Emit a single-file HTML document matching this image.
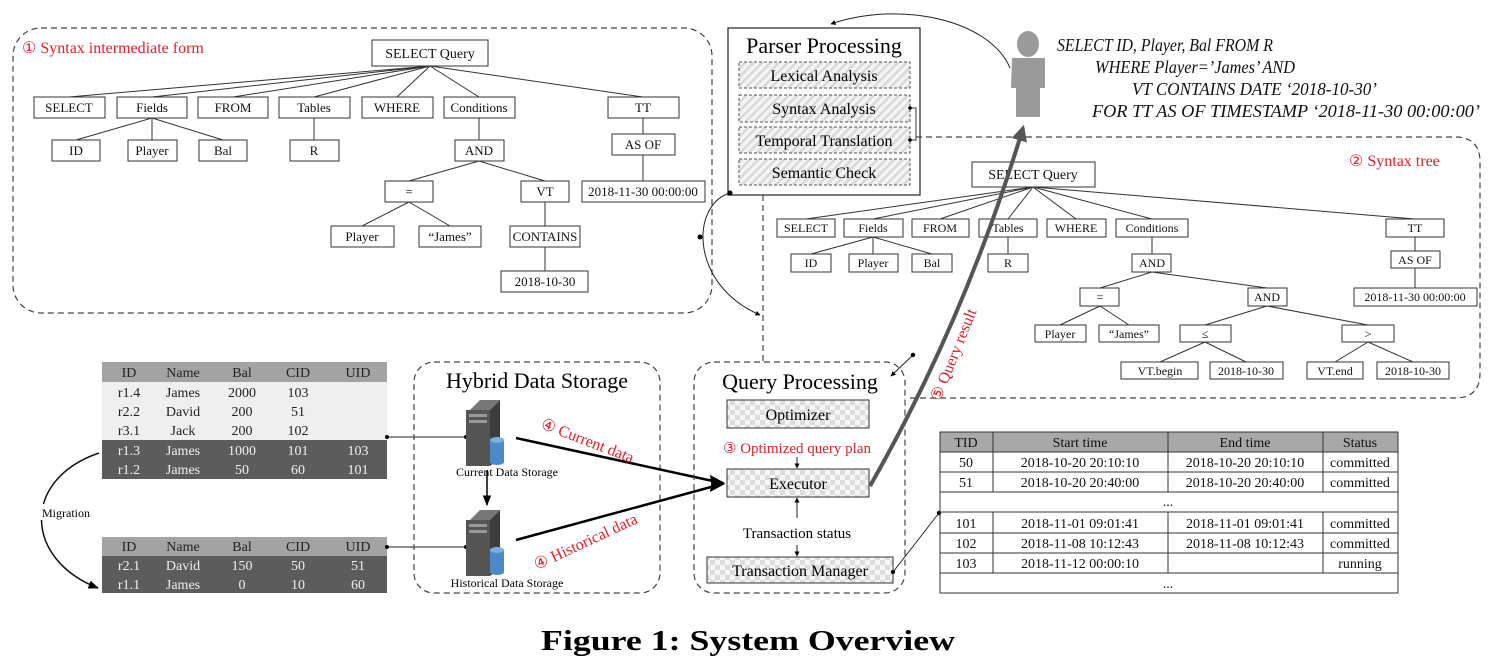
<!DOCTYPE html>
<html><head><meta charset="utf-8"><style>
html,body{margin:0;padding:0;background:#fff;}
svg{display:block;font-family:"Liberation Serif",serif;}
</style></head><body>
<svg width="1494" height="668" viewBox="0 0 1494 668" xmlns="http://www.w3.org/2000/svg">
<defs>
<pattern id="hatch" width="6" height="6" patternUnits="userSpaceOnUse" patternTransform="rotate(45)">
<rect width="6" height="6" fill="#f4f4f4"/><rect width="2.5" height="6" fill="#d8d8d8"/></pattern>
<pattern id="check" width="10" height="10" patternUnits="userSpaceOnUse">
<rect width="10" height="10" fill="#f6f6f6"/><rect width="5" height="5" fill="#dcdcdc"/><rect x="5" y="5" width="5" height="5" fill="#dcdcdc"/></pattern>
<marker id="ar" viewBox="0 0 10 10" refX="9" refY="5" markerWidth="7" markerHeight="7" orient="auto"><path d="M0,1 L10,5 L0,9 z" fill="#000"/></marker>
<marker id="arb" viewBox="0 0 10 10" refX="9" refY="5" markerWidth="5" markerHeight="5" orient="auto-start-reverse"><path d="M0,0 L10,5 L0,10 z" fill="#000"/></marker>
<marker id="arg" viewBox="0 0 10 10" refX="8" refY="5" markerWidth="4" markerHeight="4" orient="auto"><path d="M0,0 L10,5 L0,10 z" fill="#555"/></marker>
</defs>

<!-- Panel 1 -->
<rect x="13" y="28" width="699" height="285" rx="28" fill="none" stroke="#444" stroke-width="1.2" stroke-dasharray="6,4"/>
<text x="22" y="53" font-size="16" fill="#e0202a">① Syntax intermediate form</text>
<g stroke="#333" stroke-width="1" fill="none">
<path d="M430,66 L69,97 M430,66 L152,97 M430,66 L233,97 M430,66 L314,97 M430,66 L397,97 M430,66 L479,97 M430,66 L643,97"/>
<path d="M152,118 L76,140 M152,118 L152,140 M152,118 L223,140 M314,118 L314,140 M479,118 L479,140 M479,161 L409,181 M479,161 L545,181 M409,202 L362,226 M409,202 L450,226 M545,202 L545,226 M545,247 L545,271 M643,118 L643,134 M643,155 L643,181"/>
</g>
<g fill="#fff" stroke="#333" stroke-width="1">
<rect x="372" y="40" width="116" height="26"/>
<rect x="34" y="97" width="71" height="21"/><rect x="117" y="97" width="70" height="21"/><rect x="198" y="97" width="70" height="21"/><rect x="279" y="97" width="71" height="21"/><rect x="362" y="97" width="71" height="21"/><rect x="444" y="97" width="71" height="21"/><rect x="608" y="97" width="71" height="21"/>
<rect x="52" y="140" width="48" height="21"/><rect x="128" y="140" width="49" height="21"/><rect x="199" y="140" width="48" height="21"/><rect x="290" y="140" width="49" height="21"/><rect x="455" y="140" width="49" height="21"/><rect x="612" y="134" width="63" height="21"/>
<rect x="385" y="181" width="48" height="21"/><rect x="521" y="181" width="48" height="21"/><rect x="582" y="181" width="123" height="21"/>
<rect x="331" y="226" width="63" height="21"/><rect x="419" y="226" width="62" height="21"/><rect x="510" y="226" width="70" height="21"/>
<rect x="501" y="271" width="87" height="21"/>
</g>
<g font-size="13" text-anchor="middle" fill="#111">
<text x="430" y="58" font-size="14">SELECT Query</text>
<text x="69" y="112">SELECT</text><text x="152" y="112">Fields</text><text x="233" y="112">FROM</text><text x="314" y="112">Tables</text><text x="397" y="112">WHERE</text><text x="479" y="112">Conditions</text><text x="643" y="112">TT</text>
<text x="76" y="155">ID</text><text x="152" y="155">Player</text><text x="223" y="155">Bal</text><text x="314" y="155">R</text><text x="479" y="155">AND</text><text x="643" y="149">AS OF</text>
<text x="409" y="196">=</text><text x="545" y="196">VT</text><text x="643" y="196">2018-11-30 00:00:00</text>
<text x="362" y="241">Player</text><text x="450" y="241">“James”</text><text x="545" y="241">CONTAINS</text>
<text x="545" y="286">2018-10-30</text>
</g>

<!-- Parser box -->
<rect x="728" y="28" width="192" height="167" fill="#fff" stroke="#333" stroke-width="1.3"/>
<text x="824" y="53" font-size="22" text-anchor="middle">Parser Processing</text>
<g fill="url(#hatch)" stroke="#555" stroke-dasharray="3,2">
<rect x="739" y="62" width="171" height="26"/><rect x="739" y="95" width="171" height="27"/><rect x="739" y="127" width="171" height="26"/><rect x="739" y="159" width="171" height="26"/>
</g>
<g font-size="16" text-anchor="middle">
<text x="824" y="81">Lexical Analysis</text><text x="824" y="114">Syntax Analysis</text><text x="824" y="146">Temporal Translation</text><text x="824" y="178">Semantic Check</text>
</g>
<path d="M910,108 H916 V140 H910" fill="none" stroke="#333"/>
<circle cx="910" cy="108" r="1.8"/><circle cx="910" cy="140" r="1.8"/>

<!-- person -->
<g fill="#9a9a9a">
<ellipse cx="1028" cy="44" rx="11" ry="13"/>
<path d="M1012,58 H1045 V88 H1040 V117 H1016 V88 H1011 Z"/>
</g>
<path d="M1010,68 C990,20 900,0 831,24" fill="none" stroke="#222" marker-end="url(#arb)"/>
<g font-size="18" font-style="italic" fill="#111">
<text x="1057" y="51" textLength="216" lengthAdjust="spacingAndGlyphs">SELECT  ID, Player, Bal FROM  R</text>
<text x="1095" y="73" textLength="200" lengthAdjust="spacingAndGlyphs">WHERE Player=’James’ AND</text>
<text x="1132" y="95" textLength="245" lengthAdjust="spacingAndGlyphs">VT CONTAINS DATE ‘2018-10-30’</text>
<text x="1092" y="117" textLength="388" lengthAdjust="spacingAndGlyphs">FOR TT AS OF TIMESTAMP ‘2018-11-30 00:00:00’</text>
</g>

<!-- Panel 2 -->
<g fill="none" stroke="#444" stroke-width="1.2" stroke-dasharray="6,4">
<path d="M916,137 H1455 Q1480,137 1480,162 V373 Q1480,398 1455,398 H906"/>
<path d="M763,195 V362"/>
</g>
<text x="1349" y="166" font-size="16" fill="#e0202a">② Syntax tree</text>
<g stroke="#333" stroke-width="1" fill="none">
<path d="M1033,187 L806,219 M1033,187 L873,219 M1033,187 L940,219 M1033,187 L1008,219 M1033,187 L1076,219 M1033,187 L1152,219 M1033,187 L1415,219"/>
<path d="M873,237 L811,254 M873,237 L873,254 M873,237 L932,254 M1008,237 L1008,254 M1152,237 L1152,254 M1152,272 L1100,288 M1152,272 L1267,288 M1100,306 L1060,325 M1100,306 L1129,325 M1267,306 L1205,325 M1267,306 L1368,325 M1205,342 L1160,362 M1205,342 L1246,362 M1368,342 L1335,362 M1368,342 L1413,362 M1415,237 L1415,251 M1415,268 L1415,288"/>
</g>
<g fill="#fff" stroke="#333" stroke-width="1">
<rect x="972" y="162" width="123" height="25"/>
<rect x="777" y="219" width="58" height="18"/><rect x="844" y="219" width="59" height="18"/><rect x="912" y="219" width="57" height="18"/><rect x="979" y="219" width="58" height="18"/><rect x="1047" y="219" width="59" height="18"/><rect x="1116" y="219" width="72" height="18"/><rect x="1386" y="219" width="58" height="18"/>
<rect x="791" y="254" width="40" height="18"/><rect x="849" y="254" width="49" height="18"/><rect x="912" y="254" width="40" height="18"/><rect x="988" y="254" width="40" height="18"/><rect x="1132" y="254" width="39" height="18"/><rect x="1391" y="251" width="49" height="17"/>
<rect x="1080" y="288" width="39" height="18"/><rect x="1248" y="288" width="39" height="18"/><rect x="1354" y="288" width="123" height="18"/>
<rect x="1035" y="325" width="51" height="17"/><rect x="1099" y="325" width="60" height="17"/><rect x="1180" y="325" width="51" height="17"/><rect x="1342" y="325" width="52" height="17"/>
<rect x="1121" y="362" width="77" height="17"/><rect x="1210" y="362" width="73" height="17"/><rect x="1307" y="362" width="56" height="17"/><rect x="1377" y="362" width="72" height="17"/>
</g>
<g font-size="12" text-anchor="middle" fill="#111">
<text x="1033" y="179" font-size="14">SELECT Query</text>
<text x="806" y="232">SELECT</text><text x="873" y="232">Fields</text><text x="940" y="232">FROM</text><text x="1008" y="232">Tables</text><text x="1076" y="232">WHERE</text><text x="1152" y="232">Conditions</text><text x="1415" y="232">TT</text>
<text x="811" y="267">ID</text><text x="873" y="267">Player</text><text x="932" y="267">Bal</text><text x="1008" y="267">R</text><text x="1152" y="267">AND</text><text x="1415" y="264">AS OF</text>
<text x="1100" y="301">=</text><text x="1267" y="301">AND</text><text x="1415" y="301">2018-11-30 00:00:00</text>
<text x="1060" y="338">Player</text><text x="1129" y="338">“James”</text><text x="1205" y="338">≤</text><text x="1368" y="338">&gt;</text>
<text x="1160" y="375">VT.begin</text><text x="1246" y="375">2018-10-30</text><text x="1335" y="375">VT.end</text><text x="1413" y="375">2018-10-30</text>
</g>

<!-- curved connector parser -> panel2 -->
<path d="M730,193 C690,205 690,285 760,315" fill="none" stroke="#222" marker-end="url(#arb)"/>
<circle cx="730" cy="193" r="2.5"/><circle cx="700" cy="237" r="2.5"/>

<!-- Table 1 -->
<g font-size="14" text-anchor="middle">
<rect x="102" y="362" width="285" height="20" fill="#a3a3a3"/>
<rect x="102" y="382" width="285" height="58" fill="#efefef"/>
<rect x="102" y="440" width="285" height="39" fill="#5c5c5c"/>
<g fill="#222"><text x="129" y="377">ID</text><text x="183" y="377">Name</text><text x="242" y="377">Bal</text><text x="298" y="377">CID</text><text x="358" y="377">UID</text>
<text x="129" y="397">r1.4</text><text x="183" y="397">James</text><text x="242" y="397">2000</text><text x="298" y="397">103</text>
<text x="129" y="416">r2.2</text><text x="183" y="416">David</text><text x="242" y="416">200</text><text x="298" y="416">51</text>
<text x="129" y="435">r3.1</text><text x="183" y="435">Jack</text><text x="242" y="435">200</text><text x="298" y="435">102</text></g>
<g fill="#f0f0f0"><text x="129" y="455">r1.3</text><text x="183" y="455">James</text><text x="242" y="455">1000</text><text x="298" y="455">101</text><text x="358" y="455">103</text>
<text x="129" y="474">r1.2</text><text x="183" y="474">James</text><text x="242" y="474">50</text><text x="298" y="474">60</text><text x="358" y="474">101</text></g>
<rect x="102" y="537" width="285" height="19" fill="#a3a3a3"/>
<rect x="102" y="556" width="285" height="37" fill="#5c5c5c"/>
<g fill="#222"><text x="129" y="551">ID</text><text x="183" y="551">Name</text><text x="242" y="551">Bal</text><text x="298" y="551">CID</text><text x="358" y="551">UID</text></g>
<g fill="#f0f0f0"><text x="129" y="570">r2.1</text><text x="183" y="570">David</text><text x="242" y="570">150</text><text x="298" y="570">50</text><text x="358" y="570">51</text>
<text x="129" y="589">r1.1</text><text x="183" y="589">James</text><text x="242" y="589">0</text><text x="298" y="589">10</text><text x="358" y="589">60</text></g>
</g>
<path d="M99,453 C20,480 25,560 98,588" fill="none" stroke="#111" stroke-width="1.5" marker-end="url(#ar)"/>
<rect x="36" y="504" width="62" height="16" fill="#fff"/>
<text x="66" y="517" font-size="12" text-anchor="middle">Migration</text>
<path d="M387,437 H466 M387,547 H466" stroke="#222"/>
<circle cx="387" cy="437" r="2"/><circle cx="466" cy="437" r="2"/><circle cx="387" cy="547" r="2"/><circle cx="466" cy="547" r="2"/>

<!-- Hybrid storage -->
<rect x="414" y="362" width="246" height="231" rx="20" fill="none" stroke="#444" stroke-width="1.2" stroke-dasharray="6,4"/>
<text x="537" y="388" font-size="22" text-anchor="middle">Hybrid Data Storage</text>
<g id="srv">
<path d="M470,410 L480,400 L500,400 L490,410 Z" fill="#777"/>
<path d="M490,410 L500,400 L500,458 L490,466 Z" fill="#3c3c3c"/>
<rect x="466" y="410" width="24" height="56" fill="#555"/>
<rect x="469" y="414" width="18" height="3" fill="#999"/><rect x="469" y="420" width="18" height="3" fill="#999"/>
<rect x="490" y="440" width="14" height="22" fill="#4a8ac8"/><ellipse cx="497" cy="440" rx="7" ry="3" fill="#7ab0e0"/><ellipse cx="497" cy="462" rx="7" ry="3" fill="#4a8ac8"/>
</g>
<use href="#srv" transform="translate(0,110)"/>
<text x="507" y="476" font-size="12" text-anchor="middle">Current Data Storage</text>
<text x="507" y="587" font-size="12" text-anchor="middle">Historical Data Storage</text>
<path d="M487,470 V505" stroke="#000" stroke-width="1.5" marker-end="url(#ar)"/>
<path d="M516,438 L722,483 M516,540 L722,484" stroke="#000" stroke-width="2.5" fill="none"/>
<path d="M725,483 L710,475 L712,490 Z M725,484 L712,478 L710,492 Z" fill="#000"/>
<text transform="translate(540,428) rotate(21)" font-size="16" fill="#e0202a">④ Current data</text>
<text transform="translate(537,570) rotate(-25)" font-size="16" fill="#e0202a">④ Historical data</text>

<!-- Query processing -->
<rect x="694" y="362" width="211" height="231" rx="20" fill="none" stroke="#444" stroke-width="1.2" stroke-dasharray="6,4"/>
<text x="800" y="389" font-size="22" text-anchor="middle">Query Processing</text>
<path d="M913,355 L891,376" stroke="#222" marker-end="url(#arb)"/><circle cx="913" cy="355" r="2.2"/>
<g fill="url(#check)" stroke="#333">
<rect x="727" y="400" width="142" height="28"/><rect x="727" y="469" width="142" height="28"/><rect x="707" y="557" width="186" height="26"/>
</g>
<g font-size="16" text-anchor="middle">
<text x="798" y="420">Optimizer</text><text x="798" y="489">Executor</text><text x="800" y="576">Transaction Manager</text>
<text x="797" y="538" font-size="15">Transaction status</text>
</g>
<text x="797" y="453" font-size="15" text-anchor="middle" fill="#e0202a">③ Optimized query plan</text>
<path d="M797,457 V468" stroke="#222" marker-end="url(#arb)"/>
<path d="M797,498 V518" stroke="#222" marker-start="url(#arb)"/>
<path d="M797,545 V556" stroke="#222" marker-end="url(#arb)"/>
<path d="M893,572 L939,513" stroke="#222"/><circle cx="893" cy="572" r="2"/><circle cx="939" cy="513" r="2.2"/>

<!-- Query result arrow -->
<path d="M870,486 Q965,320 1023,128" fill="none" stroke="#555" stroke-width="4" marker-end="url(#arg)"/>
<text transform="translate(940,402) rotate(-68)" font-size="16" fill="#e0202a">⑤ Query result</text>

<!-- Transaction table -->
<g stroke="#333" fill="none">
<rect x="940" y="432" width="458" height="161"/>
<rect x="940" y="432" width="458" height="20" fill="#a8a8a8"/>
<path d="M940,452 H1398 M940,472 H1398 M940,492 H1398 M940,512 H1398 M940,533 H1398 M940,553 H1398 M940,573 H1398"/>
<path d="M993,432 V492 M1168,432 V492 M1323,432 V492 M993,512 V573 M1168,512 V573 M1323,512 V573"/>
</g>
<g font-size="14" text-anchor="middle" fill="#111">
<text x="966" y="447">TID</text><text x="1080" y="447">Start time</text><text x="1245" y="447">End time</text><text x="1360" y="447">Status</text>
<text x="966" y="467">50</text><text x="1080" y="467">2018-10-20 20:10:10</text><text x="1245" y="467">2018-10-20 20:10:10</text><text x="1360" y="467">committed</text>
<text x="966" y="487">51</text><text x="1080" y="487">2018-10-20 20:40:00</text><text x="1245" y="487">2018-10-20 20:40:00</text><text x="1360" y="487">committed</text>
<text x="1168" y="506">...</text>
<text x="966" y="528">101</text><text x="1080" y="528">2018-11-01 09:01:41</text><text x="1245" y="528">2018-11-01 09:01:41</text><text x="1360" y="528">committed</text>
<text x="966" y="548">102</text><text x="1080" y="548">2018-11-08 10:12:43</text><text x="1245" y="548">2018-11-08 10:12:43</text><text x="1360" y="548">committed</text>
<text x="966" y="568">103</text><text x="1080" y="568">2018-11-12 00:00:10</text><text x="1360" y="568">running</text>
<text x="1168" y="588">...</text>
</g>

<text x="541" y="650" font-size="29" font-weight="bold" textLength="414" lengthAdjust="spacingAndGlyphs">Figure 1: System Overview</text>
</svg>
</body></html>
